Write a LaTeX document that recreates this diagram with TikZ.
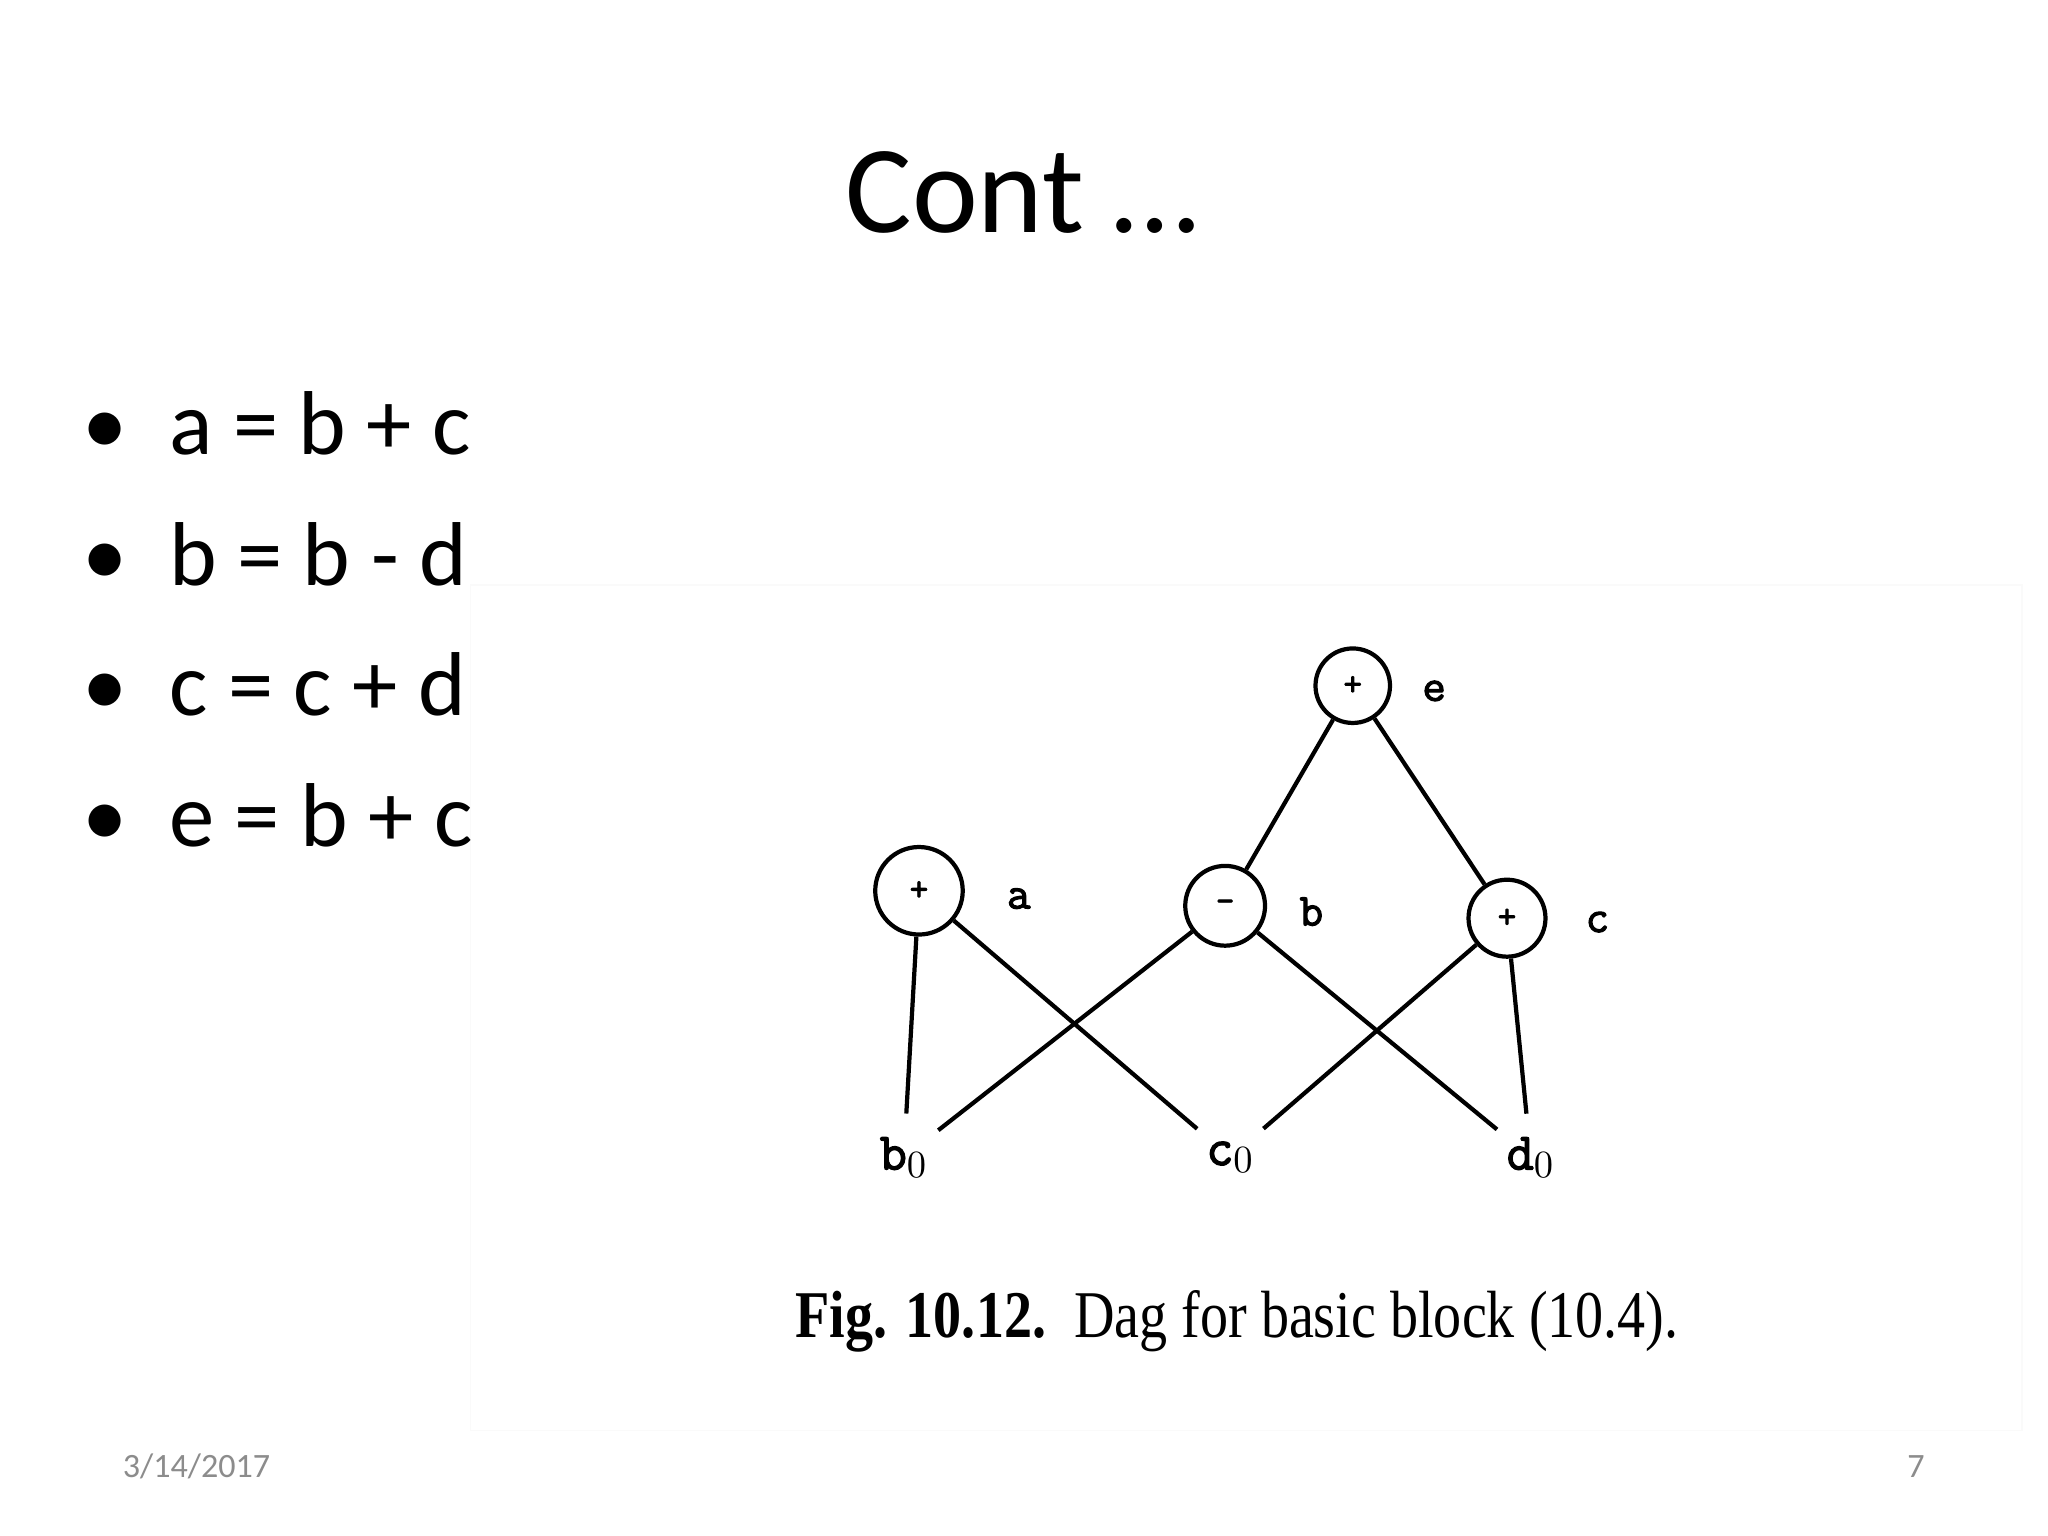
\documentclass[tikz,border=0pt]{standalone}
\usepackage{fontspec}
\setmainfont{Carlito}
\newfontfamily\scanfont[FakeStretch=0.84]{Liberation Serif}
\newfontfamily\typefont[FakeBold=2.5]{Latin Modern Mono}
\usetikzlibrary{positioning}

\tikzset{
  opnode/.style={draw, circle, line width=1.2pt, inner sep=0pt,
    font=\typefont\fontsize{10}{10}\selectfont},
  varlabel/.style={font=\typefont\fontsize{13}{13}\selectfont},
  leaf/.style={circle, inner sep=0pt, minimum size=24.5pt,
    font=\typefont\fontsize{15}{15}\selectfont},
  edge/.style={line width=1.2pt}
}

\begin{document}
\begin{tikzpicture}[x=0.013061cm, y=-0.013061cm]
  \useasboundingbox (0,0) rectangle (1568,1176);
  % scanned figure
  \draw[black!2, fill=white] (360,448) rectangle (1548,1095);
  % title and bullets
  \node[anchor=base, font=\fontsize{35.5}{40}\selectfont] (title) at (782.5,178) {Cont …};
  \foreach \t [count=\i] in {a = b + c, b = b - d, c = c + d, e = b + c}{
    \node[anchor=base, font=\fontsize{25.8}{30}\selectfont] (dot\i) at (80.5,248+\i*100) {•};
    \node[anchor=base west, inner sep=0pt, font=\fontsize{25.8}{30}\selectfont] (stmt\i) at (129,248+\i*100) {\t};
  }
  % dag nodes
  \node[opnode, minimum size=21.2pt] (e) at (1035.7,525) {+};
  \node[opnode, minimum size=24.9pt] (a) at (703.6,682) {+};
  \node[opnode, minimum size=22.7pt] (b) at (938,693.5) {-};
  \node[opnode, minimum size=21.9pt] (c) at (1153.8,703) {+};
  \node[varlabel] (le) at (1098,529) {e};
  \node[varlabel] (la) at (780,688) {a};
  \node[varlabel] (lb) at (1004,698) {b};
  \node[varlabel] (lc) at (1223,706) {c};
  \node[leaf] (b0) at (692,886) {b$_0$};
  \node[leaf] (c0) at (942,886) {c$_0$};
  \node[leaf] (d0) at (1172,886) {d$_0$};
  % edges
  \foreach \u/\v in {e/b, e/c, a/b0, a/c0, b/b0, b/d0, c/c0, c/d0}{
    \draw[edge] (\u) -- (\v);
  }
  % caption
  \node[anchor=base, font=\scanfont\fontsize{19}{22}\selectfont] (caption) at (947,1024)
    {\textbf{Fig. 10.12.}\ \ Dag for basic block (10.4).};
  % footer
  \node[anchor=base, text=black!45, font=\fontsize{9.7}{11}\selectfont] (date) at (150.5,1131) {3/14/2017};
  \node[anchor=base, text=black!45, font=\fontsize{9.7}{11}\selectfont] (page) at (1467,1131) {7};
\end{tikzpicture}
\end{document}
